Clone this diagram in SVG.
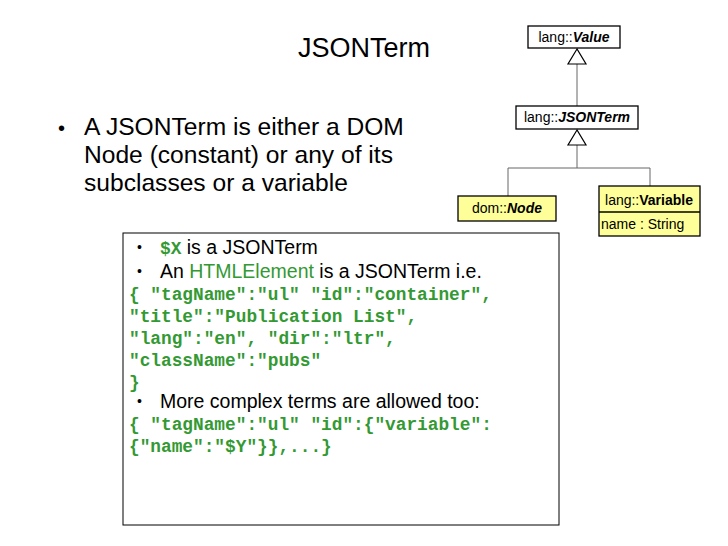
<svg xmlns="http://www.w3.org/2000/svg" width="728" height="546" viewBox="0 0 728 546">
<style>
text{font-family:"Liberation Sans",Arial,sans-serif}
.cls{fill:#fff;stroke:#000;stroke-width:1.3}
.yel{fill:#ffff99;stroke:#000;stroke-width:1.3}
.u{font-size:14px}
.c{font-family:"Liberation Mono","Courier New",monospace;font-weight:bold;font-size:17.8px;fill:#339933}
.g{fill:#339933}
.line{stroke:#666;stroke-width:1;fill:none}
.tri{fill:#fff;stroke:#000;stroke-width:1.2}
</style>
<rect width="728" height="546" fill="#fff"/>
<text x="364" y="57" font-size="27" text-anchor="middle">JSONTerm</text>
<g id="bullet-main" font-size="24.6">
<text x="58" y="135" font-size="20">•</text>
<text x="84" y="135">A JSONTerm is either a DOM</text>
<text x="84" y="163">Node (constant) or any of its</text>
<text x="84" y="191">subclasses or a variable</text>
</g>
<g id="connectors">
<line class="line" x1="577" y1="64" x2="577" y2="106"/>
<polygon class="tri" points="577,49 568,64 586,64"/>
<line class="line" x1="577" y1="145" x2="577" y2="168"/>
<polyline class="line" points="508,196 508,168 650,168 650,186"/>
<polygon class="tri" points="577,130 568,145 586,145"/>
</g>
<g id="value"><rect class="cls" x="528" y="26" width="92" height="22"/><text class="u" x="574" y="42" text-anchor="middle">lang::<tspan font-weight="bold" font-style="italic">Value</tspan></text></g>
<g id="jsonterm"><rect class="cls" x="516" y="106" width="122" height="23"/><text class="u" x="577" y="122" text-anchor="middle">lang::<tspan font-weight="bold" font-style="italic">JSONTerm</tspan></text></g>
<g id="node"><rect class="yel" x="458" y="196" width="98" height="25"/><text class="u" x="507" y="213" text-anchor="middle">dom::<tspan font-weight="bold" font-style="italic">Node</tspan></text></g>
<g id="variable"><rect class="yel" x="599" y="186" width="101" height="50"/><line x1="599" y1="212" x2="700" y2="212" stroke="#000" stroke-width="1.3"/><text class="u" x="649" y="205" text-anchor="middle">lang::<tspan font-weight="bold">Variable</tspan></text><text class="u" x="601" y="229">name : String</text></g>
<g id="example">
<rect x="123" y="233" width="436" height="292" fill="#fff" stroke="#000" stroke-width="1"/>
<g font-size="19.5">
<text x="137" y="252" font-size="14">•</text>
<text x="160" y="254"><tspan class="c">$X</tspan> is a JSONTerm</text>
<text x="137" y="276" font-size="14">•</text>
<text x="160" y="278">An <tspan class="g">HTMLElement</tspan> is a JSONTerm i.e.</text>
</g>
<text class="c" x="129" y="300" xml:space="preserve">{ "tagName":"ul" "id":"container",</text>
<text class="c" x="129" y="322">"title":"Publication List",</text>
<text class="c" x="129" y="344">"lang":"en", "dir":"ltr",</text>
<text class="c" x="129" y="366">"className":"pubs"</text>
<text class="c" x="129" y="388">}</text>
<text x="137" y="406" font-size="14">•</text>
<text x="160" y="408" font-size="19.5">More complex terms are allowed too:</text>
<text class="c" x="129" y="430" xml:space="preserve">{ "tagName":"ul" "id":{"variable":</text>
<text class="c" x="129" y="452">{"name":"$Y"}},...}</text>
</g>
</svg>
